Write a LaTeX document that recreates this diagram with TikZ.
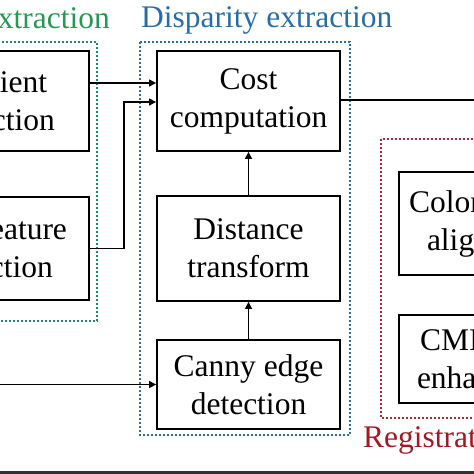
\documentclass[tikz,border=0pt]{standalone}
\usepackage{fontspec}
\setmainfont{Liberation Serif}
\usetikzlibrary{arrows.meta,positioning}

\definecolor{grptxt}{RGB}{40,150,85}
\definecolor{grpline}{RGB}{35,135,110}
\definecolor{disptxt}{RGB}{40,110,165}
\definecolor{displine}{RGB}{45,110,150}
\definecolor{regtxt}{RGB}{160,25,35}
\definecolor{regline}{RGB}{165,45,45}

\tikzset{
	blk/.style={draw, line width=1.8pt, align=center, inner sep=0pt,
		font=\fontsize{31.5}{38}\selectfont},
	grp/.style={line width=2.5pt, dash pattern=on 2pt off 2pt},
	ttl/.style={inner sep=0pt, font=\fontsize{31.5}{38}\selectfont},
	flow/.style={line width=1.3pt, -{Triangle[length=7pt,width=7pt]}}
}

\begin{document}
\begin{tikzpicture}[x=1pt,y=-1pt]
	\useasboundingbox (0,0) rectangle (474,474);
	\clip (0,0) rectangle (474,474);
	% groups
	\draw[grp, grpline] (-120,42) rectangle (97,321);
	\draw[grp, displine] (140,42) rectangle (350,435);
	\draw[grp, regline] (381,139) rectangle (620,418);
	\node[ttl, grptxt, anchor=base east] (tfeat) at (110,28) {Feature extraction};
	\node[ttl, disptxt, anchor=base west] (tdisp) at (141,27) {Disparity extraction};
	\node[ttl, regtxt, anchor=base west] (treg) at (363,447) {Registration};
	% blocks
	\node[blk, minimum width=194pt, minimum height=100pt] (grad) at (-8,101) {Gradient\\extraction};
	\node[blk, minimum width=184pt, minimum height=103pt, align=right] (feat) at (-3,248.5) {Feature\\extraction\hspace*{14pt}};
	\node[blk, minimum width=183pt, minimum height=100pt] (cost) at (248.5,101) {Cost\\computation};
	\node[blk, minimum width=183pt, minimum height=105pt] (dist) at (248.5,248.5) {Distance\\transform};
	\node[blk, minimum width=183pt, minimum height=89pt] (canny) at (248.5,384.5) {Canny edge\\detection};
	\node[blk, minimum height=103pt, text width=180pt, inner xsep=10pt, align=left] (color) at (499,223.5) {Color\\\hspace*{18pt}alignment};
	\node[blk, minimum height=88pt, text width=164pt, inner xsep=18pt, align=left] (cmi) at (499,359) {\hspace*{3pt}CMI\\enhancement};
	% connectors
	\coordinate (inp) at (-10,384.5);
	\coordinate (outp) at (490,100);
	\draw[flow] (grad.east |- 0,83) -- (cost.west |- 0,83);
	\draw[flow] (feat.east) -| (124,102) -- (cost.west |- 0,102);
	\draw[flow] (inp) -- (canny.west);
	\draw[flow] (canny.north) -- (dist.south);
	\draw[flow] (dist.north) -- (cost.south);
	\draw[line width=1.3pt] (cost.east |- 0,100) -- (outp);
	% bottom edge
	\draw[line width=3pt, black!80] (0,472.5) -- (474,472.5);
\end{tikzpicture}
\end{document}
